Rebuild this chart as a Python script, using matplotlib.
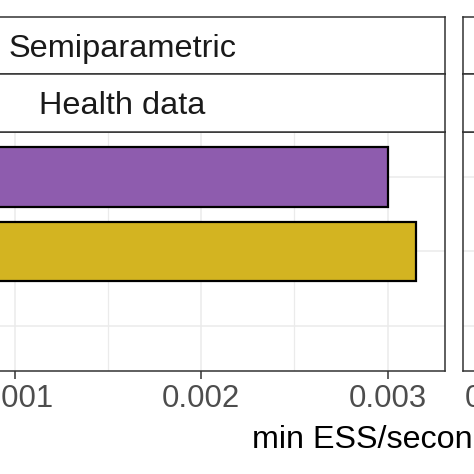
import matplotlib
matplotlib.use('Agg')
import matplotlib.pyplot as plt

plt.rcParams['font.family'] = ['Liberation Sans', 'DejaVu Sans']

# 데이터 (왼쪽 패널: Semiparametric / Health data)
methods = ['Method A', 'Method B', 'Method C']
ess_per_sec = [0.00300, 0.00315, 0.00050]
bar_colors = ['#8E5CAE', '#D3B421', '#3FA39A']
x_ticks = [0.000, 0.001, 0.002, 0.003]
x_tick_labels = ['0.000', '0.001', '0.002', '0.003']
strip_top = 'Semiparametric'
strip_bottom = 'Health data'
x_label = 'min ESS/second'

# 오른쪽 패널 (잘려서 눈금 하나만 보임)
right_ticks = [0.00, 0.01, 0.02]
right_tick_labels = ['0.00', '0.01', '0.02']

W = H = 474
fig = plt.figure(figsize=(W / 100, H / 100), dpi=100)


def px_axes(left, top, right, bottom):
    return fig.add_axes([left / W, 1 - bottom / H, (right - left) / W, (bottom - top) / H])


def style_panel(ax):
    ax.set_facecolor('white')
    for s in ax.spines.values():
        s.set_color('#333333')
        s.set_linewidth(1.1)
    ax.grid(True, which='major', color='#EBEBEB', lw=1.1)
    ax.grid(True, which='minor', axis='x', color='#EBEBEB', lw=0.9)
    ax.set_axisbelow(True)
    ax.tick_params(axis='x', which='major', length=5.8, width=1.1, color='#333333',
                   labelsize=22.4, labelcolor='#4D4D4D', pad=4)
    ax.tick_params(axis='x', which='minor', length=0)
    ax.tick_params(axis='y', length=0, labelleft=False)


def strip(left, top, right, bottom, text):
    sa = px_axes(left, top, right, bottom)
    sa.set_xticks([])
    sa.set_yticks([])
    for s in sa.spines.values():
        s.set_color('#333333')
        s.set_linewidth(1.1)
    sa.set_facecolor('white')
    sa.text(0.5, 0.5, text, transform=sa.transAxes, ha='center', va='center_baseline',
            fontsize=23.4, color='#1A1A1A')
    return sa


pos = list(range(1, len(methods) + 1))

# 왼쪽 패널
ax = px_axes(-200.9, 132, 445, 370.7)
ax.barh(pos, ess_per_sec, height=0.8, color=bar_colors, edgecolor='black', linewidth=1.6)
ax.set_xlim(-0.0001575, 0.0033075)
ax.set_ylim(3.6, 0.4)
ax.set_yticks(pos)
ax.set_xticks(x_ticks)
ax.set_xticklabels(x_tick_labels)
ax.set_xticks([0.0005, 0.0015, 0.0025], minor=True)
style_panel(ax)
strip(-200.9, 17, 445, 74, strip_top)
strip(-200.9, 74, 445, 132, strip_bottom)

# 오른쪽 패널
ax2 = px_axes(463, 132, 1109, 370.7)
ax2.set_xlim(-0.0015, 0.0288)
ax2.set_ylim(3.6, 0.4)
ax2.set_yticks(pos)
ax2.set_xticks(right_ticks)
ax2.set_xticklabels(right_tick_labels)
style_panel(ax2)
strip(463, 17, 1109, 74, '')
strip(463, 74, 1109, 132, '')

fig.text(252.0 / W, 1 - 448.5 / H, x_label, ha='left', va='baseline', fontsize=23.2, color='black')

plt.savefig('out.png', dpi=100)
